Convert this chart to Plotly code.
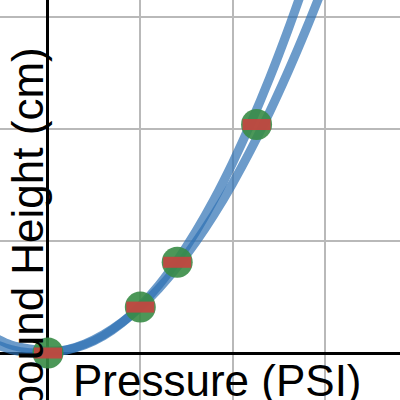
import plotly.graph_objects as go

# measured points
pressure = [0, 5, 7, 11.3]
height = [0, 4.1, 8.1, 20.4]

# two fitted curves
curve_a_x = [-2.8, -2, -1, 0, 1, 2, 3, 4, 5, 6, 7, 8, 9, 10, 11, 12, 13, 14]
curve_a_y = [1.3, 0.71, 0.36, 0.18, 0.27, 0.74, 1.54, 2.69, 4.2, 6.05, 8.26,
             10.81, 13.71, 16.97, 20.57, 24.52, 28.83, 33.48]
curve_b_x = [-2.8, -2, -1, 0, 1, 2, 3, 4, 5, 6, 7, 8, 9, 10, 11, 12, 13, 14, 15]
curve_b_y = [0.75, 0.31, 0.02, 0.0, 0.27, 0.81, 1.63, 2.73, 4.1, 5.75, 7.68,
             9.89, 12.38, 15.14, 18.19, 21.5, 25.1, 28.97, 33.1]

blue = 'rgba(45, 112, 179, 0.7)'
green = 'rgba(56, 140, 70, 0.9)'
red = 'rgba(199, 68, 64, 0.9)'

fig = go.Figure()

for cx, cy in [(curve_a_x, curve_a_y), (curve_b_x, curve_b_y)]:
    fig.add_trace(go.Scatter(
        x=cx, y=cy, mode='lines', line_shape='spline',
        line=dict(color=blue, width=9),
        hoverinfo='skip'
    ))

# green dots
fig.add_trace(go.Scatter(
    x=pressure, y=height, mode='markers',
    marker=dict(size=31, color=green, line=dict(width=0))
))

# red bars on top of the dots
fig.add_trace(go.Scatter(
    x=pressure, y=height, mode='markers',
    marker=dict(symbol='line-ew', size=20, color=red,
                line=dict(color=red, width=11))
))

axis_common = dict(
    showticklabels=False, ticks='',
    showgrid=True, gridcolor='#b9b9b9', gridwidth=1.5,
    zeroline=True, zerolinecolor='black', zerolinewidth=3,
    showline=False, tick0=0
)

fig.update_layout(
    width=400, height=400,
    margin=dict(l=0, r=0, t=0, b=0, pad=0),
    paper_bgcolor='white', plot_bgcolor='white',
    showlegend=False,
    xaxis=dict(range=[-2.6, 19.07], dtick=5, **axis_common),
    yaxis=dict(range=[-4.196, 31.52], dtick=10, **axis_common),
    font=dict(family='Liberation Sans, Arial, sans-serif', color='black'),
    annotations=[
        dict(text='Pressure (PSI)', xref='paper', yref='paper',
             x=0.544, y=0.05, xanchor='center', yanchor='middle',
             showarrow=False, font=dict(size=44)),
        dict(text='Rebound Height (cm)', xref='paper', yref='paper',
             x=0.0, y=0.3575, xanchor='left', yanchor='middle',
             textangle=-90, showarrow=False, font=dict(size=44)),
    ]
)

# drop the default page margin so the chart sits at the window corner
fig.write_html("out.html", config={'displayModeBar': False},
               post_script="document.body.style.margin='0';")
